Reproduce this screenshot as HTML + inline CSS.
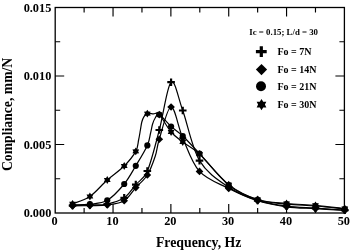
<!DOCTYPE html>
<html><head><meta charset="utf-8"><title>Compliance vs Frequency</title>
<style>
html,body{margin:0;padding:0;background:#fff;}
body{width:350px;height:250px;overflow:hidden;}
svg{display:block;}
text{font-family:"Liberation Serif","DejaVu Serif",serif;font-weight:bold;fill:#000;}
</style></head><body>
<svg width="350" height="250" viewBox="0 0 350 250">
<rect width="350" height="250" fill="#fff"/>
<g fill="none" stroke="#000" stroke-width="1.3">
<rect x="55.20" y="7.50" width="289.20" height="205.50"/>
<path stroke-width="1.15" d="M84.12 213.00v-5.00M84.12 7.50v5.00M113.04 213.00v-9.00M113.04 7.50v9.00M141.96 213.00v-5.00M141.96 7.50v5.00M170.88 213.00v-9.00M170.88 7.50v9.00M199.80 213.00v-5.00M199.80 7.50v5.00M228.72 213.00v-9.00M228.72 7.50v9.00M257.64 213.00v-5.00M257.64 7.50v5.00M286.56 213.00v-9.00M286.56 7.50v9.00M315.48 213.00v-5.00M315.48 7.50v5.00M55.20 178.75h5.00M344.40 178.75h-5.00M55.20 144.50h9.00M344.40 144.50h-9.00M55.20 110.25h5.00M344.40 110.25h-5.00M55.20 76.00h9.00M344.40 76.00h-9.00M55.20 41.75h5.00M344.40 41.75h-5.00"/>
</g>
<g fill="none" stroke="#000" stroke-width="1.2" stroke-linejoin="round">
<path d="M72.55 205.50 C75.44 205.42 84.12 205.25 89.90 205.00 C95.69 204.75 101.54 205.20 107.26 204.00 C112.97 202.80 119.45 201.03 124.21 197.80 C128.96 194.57 131.92 189.07 135.78 184.60 C139.63 180.13 143.42 180.10 147.34 171.00 C151.27 161.90 155.36 144.80 159.31 130.00 C163.27 115.20 167.17 85.45 171.08 82.20 C174.99 78.95 178.01 97.43 182.75 110.50 C187.48 123.57 191.84 147.82 199.50 160.60 C207.16 173.38 219.03 180.57 228.72 187.20 C238.41 193.83 248.00 197.23 257.64 200.40 C267.28 203.57 276.92 204.90 286.56 206.20 C296.20 207.50 305.77 207.55 315.48 208.20 C325.19 208.85 339.91 209.78 344.80 210.10"/>
<path d="M72.55 206.00 C75.44 205.93 84.12 205.77 89.90 205.60 C95.69 205.43 101.54 205.80 107.26 205.00 C112.97 204.20 119.45 203.70 124.21 200.80 C128.96 197.90 131.92 191.90 135.78 187.60 C139.63 183.30 144.09 180.27 147.34 175.00 C150.60 169.73 153.31 161.97 155.30 156.00 C157.29 150.03 156.68 147.37 159.31 139.20 C161.94 131.03 167.17 107.20 171.08 107.00 C174.99 106.80 178.01 127.27 182.75 138.00 C187.48 148.73 191.84 163.00 199.50 171.40 C207.16 179.80 219.03 183.50 228.72 188.40 C238.41 193.30 248.00 197.73 257.64 200.80 C267.28 203.87 276.92 205.48 286.56 206.80 C296.20 208.12 305.77 208.08 315.48 208.70 C325.19 209.32 339.91 210.20 344.80 210.50"/>
<path d="M72.55 205.00 C75.44 204.87 84.12 204.98 89.90 204.20 C95.69 203.42 101.54 203.67 107.26 200.30 C112.97 196.93 119.45 189.75 124.21 184.00 C128.96 178.25 131.92 172.23 135.78 165.80 C139.63 159.37 144.87 150.87 147.34 145.40 C149.81 139.93 149.72 136.57 150.60 133.00 C151.48 129.43 151.83 126.50 152.60 124.00 C153.37 121.50 154.08 119.57 155.20 118.00 C156.32 116.43 156.67 113.18 159.31 114.60 C161.96 116.02 167.17 122.93 171.08 126.50 C174.99 130.07 178.01 131.48 182.75 136.00 C187.48 140.52 191.84 145.40 199.50 153.60 C207.16 161.80 219.03 177.50 228.72 185.20 C238.41 192.90 248.00 196.63 257.64 199.80 C267.28 202.97 276.92 203.17 286.56 204.20 C296.20 205.23 305.77 205.20 315.48 206.00 C325.19 206.80 339.91 208.50 344.80 209.00"/>
<path d="M72.55 203.80 C75.44 202.58 84.12 200.47 89.90 196.50 C95.69 192.53 101.54 185.08 107.26 180.00 C112.97 174.92 119.45 170.77 124.21 166.00 C128.96 161.23 133.38 155.73 135.78 151.40 C138.17 147.07 137.83 143.57 138.60 140.00 C139.37 136.43 139.87 133.00 140.40 130.00 C140.93 127.00 141.20 124.23 141.80 122.00 C142.40 119.77 143.08 118.00 144.00 116.60 C144.92 115.20 145.79 114.05 147.34 113.60 C148.89 113.15 151.31 113.73 153.30 113.90 C155.29 114.07 156.35 111.58 159.31 114.60 C162.28 117.62 167.17 127.43 171.08 132.00 C174.99 136.57 178.01 138.33 182.75 142.00 C187.48 145.67 191.84 146.90 199.50 154.00 C207.16 161.10 219.03 177.02 228.72 184.60 C238.41 192.18 248.00 196.35 257.64 199.50 C267.28 202.65 276.92 202.53 286.56 203.50 C296.20 204.47 305.77 204.47 315.48 205.30 C325.19 206.13 339.91 207.97 344.80 208.50"/>
</g>
<g fill="#000" stroke="none">
<path d="M71.45 201.70h2.20v2.70h2.70v2.20h-2.70v2.70h-2.20v-2.70h-2.70v-2.20h2.70z"/>
<path d="M88.80 201.20h2.20v2.70h2.70v2.20h-2.70v2.70h-2.20v-2.70h-2.70v-2.20h2.70z"/>
<path d="M106.16 200.20h2.20v2.70h2.70v2.20h-2.70v2.70h-2.20v-2.70h-2.70v-2.20h2.70z"/>
<path d="M123.11 194.00h2.20v2.70h2.70v2.20h-2.70v2.70h-2.20v-2.70h-2.70v-2.20h2.70z"/>
<path d="M134.68 180.80h2.20v2.70h2.70v2.20h-2.70v2.70h-2.20v-2.70h-2.70v-2.20h2.70z"/>
<path d="M146.24 167.20h2.20v2.70h2.70v2.20h-2.70v2.70h-2.20v-2.70h-2.70v-2.20h2.70z"/>
<path d="M158.21 126.20h2.20v2.70h2.70v2.20h-2.70v2.70h-2.20v-2.70h-2.70v-2.20h2.70z"/>
<path d="M169.98 78.40h2.20v2.70h2.70v2.20h-2.70v2.70h-2.20v-2.70h-2.70v-2.20h2.70z"/>
<path d="M181.65 106.70h2.20v2.70h2.70v2.20h-2.70v2.70h-2.20v-2.70h-2.70v-2.20h2.70z"/>
<path d="M198.40 156.80h2.20v2.70h2.70v2.20h-2.70v2.70h-2.20v-2.70h-2.70v-2.20h2.70z"/>
<path d="M227.62 183.40h2.20v2.70h2.70v2.20h-2.70v2.70h-2.20v-2.70h-2.70v-2.20h2.70z"/>
<path d="M256.54 196.60h2.20v2.70h2.70v2.20h-2.70v2.70h-2.20v-2.70h-2.70v-2.20h2.70z"/>
<path d="M285.46 202.40h2.20v2.70h2.70v2.20h-2.70v2.70h-2.20v-2.70h-2.70v-2.20h2.70z"/>
<path d="M314.38 204.40h2.20v2.70h2.70v2.20h-2.70v2.70h-2.20v-2.70h-2.70v-2.20h2.70z"/>
<path d="M343.70 206.30h2.20v2.70h2.70v2.20h-2.70v2.70h-2.20v-2.70h-2.70v-2.20h2.70z"/>
<path d="M72.55 202.20L76.35 206.00L72.55 209.80L68.75 206.00z"/>
<path d="M89.90 201.80L93.70 205.60L89.90 209.40L86.10 205.60z"/>
<path d="M107.26 201.20L111.06 205.00L107.26 208.80L103.46 205.00z"/>
<path d="M124.21 197.00L128.01 200.80L124.21 204.60L120.41 200.80z"/>
<path d="M135.78 183.80L139.58 187.60L135.78 191.40L131.98 187.60z"/>
<path d="M147.34 171.20L151.14 175.00L147.34 178.80L143.54 175.00z"/>
<path d="M159.31 135.40L163.11 139.20L159.31 143.00L155.51 139.20z"/>
<path d="M171.08 103.20L174.88 107.00L171.08 110.80L167.28 107.00z"/>
<path d="M182.75 134.20L186.55 138.00L182.75 141.80L178.95 138.00z"/>
<path d="M199.50 167.60L203.30 171.40L199.50 175.20L195.70 171.40z"/>
<path d="M228.72 184.60L232.52 188.40L228.72 192.20L224.92 188.40z"/>
<path d="M257.64 197.00L261.44 200.80L257.64 204.60L253.84 200.80z"/>
<path d="M286.56 203.00L290.36 206.80L286.56 210.60L282.76 206.80z"/>
<path d="M315.48 204.90L319.28 208.70L315.48 212.50L311.68 208.70z"/>
<path d="M344.80 206.70L348.60 210.50L344.80 214.30L341.00 210.50z"/>
<circle cx="72.55" cy="205.00" r="3.10"/>
<circle cx="89.90" cy="204.20" r="3.10"/>
<circle cx="107.26" cy="200.30" r="3.10"/>
<circle cx="124.21" cy="184.00" r="3.10"/>
<circle cx="135.78" cy="165.80" r="3.10"/>
<circle cx="147.34" cy="145.40" r="3.10"/>
<circle cx="159.31" cy="114.60" r="3.10"/>
<circle cx="171.08" cy="126.50" r="3.10"/>
<circle cx="182.75" cy="136.00" r="3.10"/>
<circle cx="199.50" cy="153.60" r="3.10"/>
<circle cx="228.72" cy="185.20" r="3.10"/>
<circle cx="257.64" cy="199.80" r="3.10"/>
<circle cx="286.56" cy="204.20" r="3.10"/>
<circle cx="315.48" cy="206.00" r="3.10"/>
<circle cx="344.80" cy="209.00" r="3.10"/>
<path d="M72.55 199.90L73.74 201.74L75.93 201.85L74.93 203.80L75.93 205.75L73.74 205.86L72.55 207.70L71.36 205.86L69.17 205.75L70.17 203.80L69.17 201.85L71.36 201.74z"/>
<path d="M89.90 192.60L91.09 194.44L93.28 194.55L92.28 196.50L93.28 198.45L91.09 198.56L89.90 200.40L88.71 198.56L86.53 198.45L87.52 196.50L86.53 194.55L88.71 194.44z"/>
<path d="M107.26 176.10L108.45 177.94L110.63 178.05L109.64 180.00L110.63 181.95L108.45 182.06L107.26 183.90L106.07 182.06L103.88 181.95L104.88 180.00L103.88 178.05L106.07 177.94z"/>
<path d="M124.21 162.10L125.40 163.94L127.59 164.05L126.59 166.00L127.59 167.95L125.40 168.06L124.21 169.90L123.02 168.06L120.83 167.95L121.83 166.00L120.83 164.05L123.02 163.94z"/>
<path d="M135.78 147.50L136.97 149.34L139.15 149.45L138.15 151.40L139.15 153.35L136.97 153.46L135.78 155.30L134.59 153.46L132.40 153.35L133.40 151.40L132.40 149.45L134.59 149.34z"/>
<path d="M147.34 109.70L148.53 111.54L150.72 111.65L149.72 113.60L150.72 115.55L148.53 115.66L147.34 117.50L146.15 115.66L143.97 115.55L144.97 113.60L143.97 111.65L146.15 111.54z"/>
<path d="M159.31 110.70L160.50 112.54L162.69 112.65L161.69 114.60L162.69 116.55L160.50 116.66L159.31 118.50L158.12 116.66L155.93 116.55L156.93 114.60L155.93 112.65L158.12 112.54z"/>
<path d="M171.08 128.10L172.27 129.94L174.46 130.05L173.46 132.00L174.46 133.95L172.27 134.06L171.08 135.90L169.89 134.06L167.70 133.95L168.70 132.00L167.70 130.05L169.89 129.94z"/>
<path d="M182.75 138.10L183.94 139.94L186.13 140.05L185.13 142.00L186.13 143.95L183.94 144.06L182.75 145.90L181.56 144.06L179.37 143.95L180.37 142.00L179.37 140.05L181.56 139.94z"/>
<path d="M199.50 150.10L200.69 151.94L202.88 152.05L201.88 154.00L202.88 155.95L200.69 156.06L199.50 157.90L198.31 156.06L196.12 155.95L197.12 154.00L196.12 152.05L198.31 151.94z"/>
<path d="M228.72 180.70L229.91 182.54L232.10 182.65L231.10 184.60L232.10 186.55L229.91 186.66L228.72 188.50L227.53 186.66L225.34 186.55L226.34 184.60L225.34 182.65L227.53 182.54z"/>
<path d="M257.64 195.60L258.83 197.44L261.02 197.55L260.02 199.50L261.02 201.45L258.83 201.56L257.64 203.40L256.45 201.56L254.26 201.45L255.26 199.50L254.26 197.55L256.45 197.44z"/>
<path d="M286.56 199.60L287.75 201.44L289.94 201.55L288.94 203.50L289.94 205.45L287.75 205.56L286.56 207.40L285.37 205.56L283.18 205.45L284.18 203.50L283.18 201.55L285.37 201.44z"/>
<path d="M315.48 201.40L316.67 203.24L318.86 203.35L317.86 205.30L318.86 207.25L316.67 207.36L315.48 209.20L314.29 207.36L312.10 207.25L313.10 205.30L312.10 203.35L314.29 203.24z"/>
<path d="M344.80 204.60L345.99 206.44L348.18 206.55L347.18 208.50L348.18 210.45L345.99 210.56L344.80 212.40L343.61 210.56L341.42 210.45L342.42 208.50L341.42 206.55L343.61 206.44z"/>
<path d="M259.70 46.30h3.20v3.80h3.80v3.20h-3.80v3.80h-3.20v-3.80h-3.80v-3.20h3.80z"/>
<path d="M261.50 63.95L267.10 69.55L261.50 75.15L255.90 69.55z"/>
<circle cx="261.00" cy="86.25" r="5.00"/>
<path d="M261.50 99.00L263.21 101.64L266.35 101.80L264.92 104.60L266.35 107.40L263.21 107.56L261.50 110.20L259.79 107.56L256.65 107.40L258.08 104.60L256.65 101.80L259.79 101.64z"/>
</g>
<g font-size="12.3px" text-anchor="end">
<text x="51.3" y="217.10">0.000</text>
<text x="51.3" y="148.60">0.005</text>
<text x="51.3" y="80.10">0.010</text>
<text x="51.3" y="11.60">0.015</text>
</g>
<g font-size="12.3px" text-anchor="middle">
<text x="54.60" y="225.0">0</text>
<text x="112.44" y="225.0">10</text>
<text x="170.28" y="225.0">20</text>
<text x="228.12" y="225.0">30</text>
<text x="285.96" y="225.0">40</text>
<text x="343.80" y="225.0">50</text>
</g>
<text x="198.7" y="246.6" font-size="13.8px" text-anchor="middle">Frequency, Hz</text>
<text transform="translate(12.4 114.4) rotate(-90)" font-size="13.7px" text-anchor="middle">Compliance, mm/N</text>
<text x="283.7" y="34.7" font-size="8.8px" text-anchor="middle">Ic = 0.15; L/d = 30</text>
<g font-size="10px">
<text x="277.5" y="55.10">Fo = 7N</text>
<text x="277.5" y="72.60">Fo = 14N</text>
<text x="277.5" y="90.10">Fo = 21N</text>
<text x="277.5" y="107.60">Fo = 30N</text>
</g>
</svg></body></html>
